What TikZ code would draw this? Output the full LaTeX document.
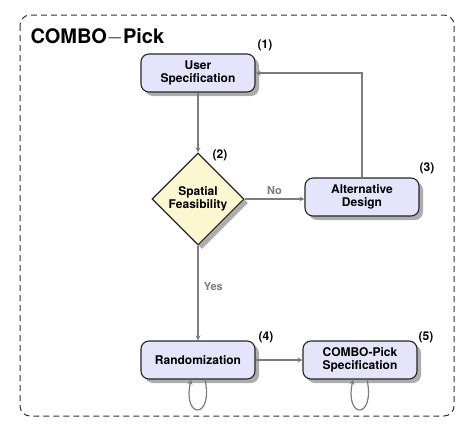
\documentclass[tikz,border=0pt]{standalone}
\usepackage{fontspec}
\setmainfont{TeX Gyre Heros}
\usepackage{tikz}
\usetikzlibrary{arrows,shapes.geometric,shadows}

\definecolor{boxfill}{HTML}{E4E4FA}
\definecolor{diafill}{HTML}{FBF7CF}
\definecolor{linegray}{HTML}{7C7C7C}

\tikzset{
	stepbox/.style={draw=black!85,line width=1.1pt,fill=boxfill,rounded corners=8pt,
		minimum width=114pt,minimum height=38pt,align=center,inner sep=2pt,
		font=\fontsize{12}{12.5}\selectfont\bfseries,
		drop shadow={shadow xshift=4pt,shadow yshift=-4pt,fill=black!40,opacity=0.8}},
	choice/.style={diamond,draw=black!85,line width=1.1pt,fill=diafill,
		minimum width=92pt,minimum height=92pt,inner sep=0pt,align=center,
		font=\fontsize{12}{12.5}\selectfont\bfseries,
		drop shadow={shadow xshift=4pt,shadow yshift=-4pt,fill=black!40,opacity=0.8}},
	flow/.style={->,linegray,line width=1.2pt},
	selfloop/.style={flow,out=-78,in=-102,looseness=7.5},
	tag/.style={font=\fontsize{12}{12}\selectfont\bfseries},
	answer/.style={linegray,font=\fontsize{11}{11}\selectfont\bfseries}
}

\begin{document}
\begin{tikzpicture}[>=stealth,x=1pt,y=1pt]
	\useasboundingbox (0,0) rectangle (474,-424);
	%\draw[gray,step=20] (0,-424) grid (474,0);

	% frame
	\draw[black!80,line width=1pt,dash pattern=on 6pt off 4pt,rounded corners=10pt]
		(20,-15) rectangle (454,-416);
	\node[right,font=\fontsize{20}{20}\selectfont\bfseries] (title) at (27,-37) {COMBO$-$Pick};

	% steps
	\node[stepbox] (user) at (198,-73) {User\\Specification};
	\node[choice] (feas) at (198,-199) {Spatial\\Feasibility};
	\node[stepbox] (alt) at (362,-197) {Alternative\\Design};
	\node[stepbox] (rand) at (198,-360) {Randomization};
	\node[stepbox] (spec) at (360,-360) {COMBO-Pick\\Specification};

	\node[tag] (n1) at (265,-45) {(1)};
	\node[tag] (n2) at (220,-155) {(2)};
	\node[tag] (n3) at (427,-168) {(3)};
	\node[tag] (n4) at (266,-337) {(4)};
	\node[tag] (n5) at (426,-337) {(5)};

	% connectors
	\draw[flow] (user) -- (feas);
	\draw[flow] (feas) -- node[answer,above,pos=0.5] (no) {No} (feas -| alt.west);
	\draw[flow] (alt.north) |- (user.east);
	\draw[flow] (feas) -- node[answer,right,pos=0.43,xshift=2pt] (yes) {Yes} (rand);
	\draw[flow] (rand) -- (spec);
	\draw[selfloop] ([xshift=7pt]rand.south) to ([xshift=-7pt]rand.south);
	\draw[selfloop] ([xshift=7pt]spec.south) to ([xshift=-7pt]spec.south);

\end{tikzpicture}
\end{document}
